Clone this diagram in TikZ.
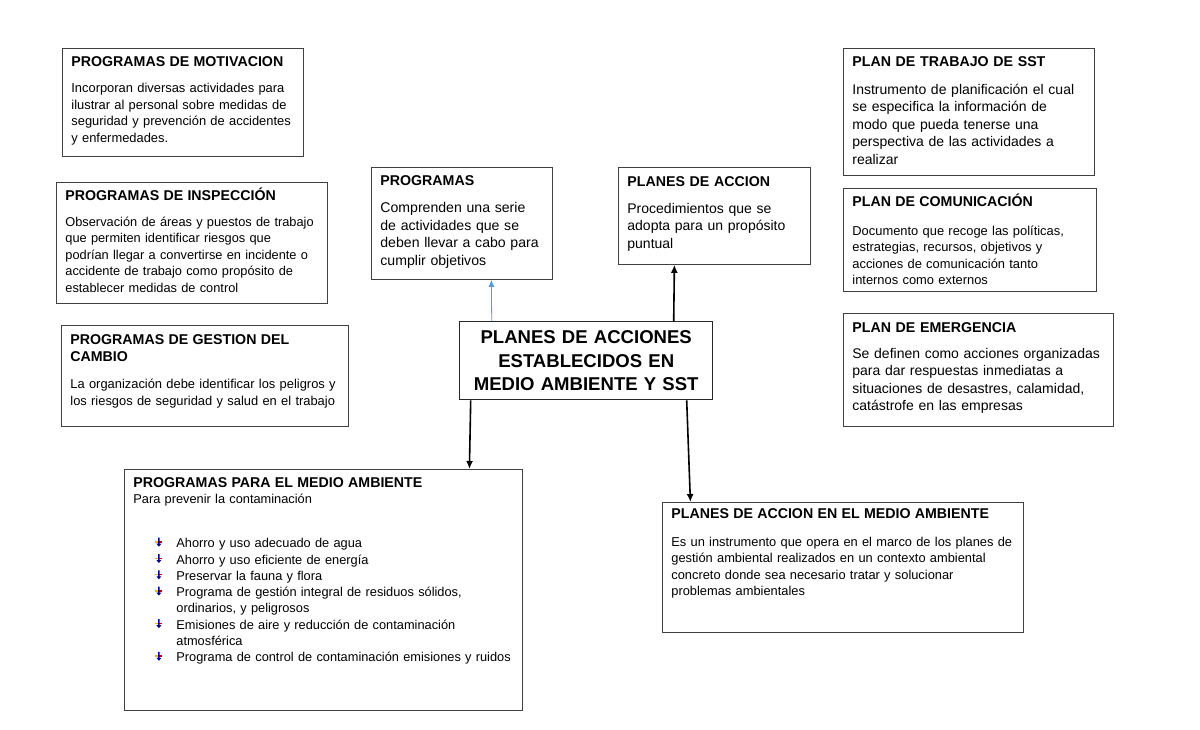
\documentclass[tikz,border=0pt]{standalone}
\usepackage{fontspec}
\setmainfont{Liberation Sans}
\usetikzlibrary{arrows.meta}
\definecolor{linkblue}{HTML}{5B9BD5}
\hyphenpenalty=10000
\exhyphenpenalty=10000
\newcommand{\cardhead}[1]{{\bfseries\fontsize{14.2}{17}\selectfont #1\par}}
\newcommand{\bodysize}[2]{\fontsize{#1}{#2}\selectfont}
\newcommand{\bul}{\tikz[x=1pt,y=1pt,baseline=-1pt]{%
  \fill[orange!60!yellow] (0,4) rectangle (3,5.5);
  \fill[red!75!black] (4,4) rectangle (7,5.5);
  \fill[blue!60!black] (2.8,9) rectangle (4.2,3) (1,3) -- (6,3) -- (3.5,0) -- cycle;}}
\begin{document}
\begin{tikzpicture}[x=1pt, y=-1pt,
  card/.style={draw=black!75, line width=0.8pt, anchor=north west, align=left,
    inner xsep=9pt, inner ysep=0pt, text height=18pt},
  hub/.style={draw=black!85, line width=1.4pt, anchor=north west, align=center,
    inner xsep=9pt, inner ysep=0pt, text height=22pt, text depth=56pt,
    text width=235pt, font=\bfseries\fontsize{18.55}{23.5}\selectfont},
  solid edge/.style={draw, -{Latex[length=8pt,width=7pt]}, line width=1.6pt},
  blue edge/.style={draw=linkblue, -{Latex[length=7pt,width=6pt]}, line width=0.8pt}
]
\fill[white] (0,0) rectangle (1200,729);
\useasboundingbox (0,0) rectangle (1200,729);
% Define the nodes
\node[card, text width=223pt, text depth=90pt, font=\bodysize{12.9}{16.7}] (motiv) at (62,48) {%
  \cardhead{PROGRAMAS DE MOTIVACION}\vspace{9.3pt}
  Incorporan diversas actividades para\\ilustrar al personal sobre medidas de\\
  seguridad y prevención de accidentes\\y enfermedades.};
\node[card, text width=253pt, text depth=103pt, font=\bodysize{12.8}{16.5}] (insp) at (56,182) {%
  \cardhead{PROGRAMAS DE INSPECCIÓN}\vspace{9.5pt}
  Observación de áreas y puestos de trabajo\\que permiten identificar riesgos que\\
  podrían llegar a convertirse en incidente o\\accidente de trabajo como propósito de\\
  establecer medidas de control};
\node[card, text width=269pt, text height=19pt, text depth=82pt, font=\bodysize{12.9}{17}] (gestion) at (61,325) {%
  \cardhead{PROGRAMAS DE GESTION DEL\\CAMBIO}\vspace{10pt}
  La organización debe identificar los peligros y\\los riesgos de seguridad y salud en el trabajo};
\node[card, text width=163pt, text depth=94pt, font=\bodysize{14.1}{17.7}] (prog) at (371,167) {%
  \cardhead{PROGRAMAS}\vspace{9.3pt}
  Comprenden una serie\\de actividades que se\\deben llevar a cabo para\\cumplir objetivos};
\node[card, text width=174pt, text height=19pt, text depth=78pt, font=\bodysize{14}{17.5}] (planes) at (618,167) {%
  \cardhead{PLANES DE ACCION}\vspace{9.5pt}
  Procedimientos que se\\adopta para un propósito\\puntual};
\node[card, text width=233pt, text depth=109pt, font=\bodysize{14}{17.5}] (trabajo) at (843,48) {%
  \cardhead{PLAN DE TRABAJO DE SST}\vspace{10.5pt}
  Instrumento de planificación el cual\\se especifica la información de\\
  modo que pueda tenerse una\\perspectiva de las actividades a\\realizar};
\node[card, text width=235pt, text depth=85pt, font=\bodysize{12.9}{16.5}] (comunic) at (843,188) {%
  \cardhead{PLAN DE COMUNICACIÓN}\vspace{12.5pt}
  Documento que recoge las políticas,\\estrategias, recursos, objetivos y\\
  acciones de comunicación tanto\\internos como externos};
\node[card, text width=252pt, text height=19pt, text depth=94pt, font=\bodysize{14}{17.5}] (emerg) at (843,313) {%
  \cardhead{PLAN DE EMERGENCIA}\vspace{8.5pt}
  Se definen como acciones organizadas\\para dar respuestas inmediatas a\\
  situaciones de desastres, calamidad,\\catástrofe en las empresas};
\node[hub] (hub) at (459,321) {PLANES DE ACCIONES\\ESTABLECIDOS EN\\MEDIO AMBIENTE Y SST};
\node[card, text width=380pt, text depth=223pt, font=\bodysize{12.8}{16.3}] (medio) at (124,469) {%
  \cardhead{PROGRAMAS PARA EL MEDIO AMBIENTE}
  Para prevenir la contaminación\par\vspace{27.7pt}
  \hspace*{22pt}\makebox[21pt][l]{\bul}Ahorro y uso adecuado de agua\\
  \hspace*{22pt}\makebox[21pt][l]{\bul}Ahorro y uso eficiente de energía\\
  \hspace*{22pt}\makebox[21pt][l]{\bul}Preservar la fauna y flora\\
  \hspace*{22pt}\makebox[21pt][l]{\bul}Programa de gestión integral de residuos sólidos,\\
  \hspace*{43pt}ordinarios, y peligrosos\\
  \hspace*{22pt}\makebox[21pt][l]{\bul}Emisiones de aire y reducción de contaminación\\
  \hspace*{43pt}atmosférica\\
  \hspace*{22pt}\makebox[21pt][l]{\bul}Programa de control de contaminación emisiones y ruidos};
\node[card, text width=343pt, text height=16pt, text depth=114pt, font=\bodysize{12.85}{16.3}] (accionma) at (662,502) {%
  \cardhead{PLANES DE ACCION EN EL MEDIO AMBIENTE}\vspace{11.7pt}
  Es un instrumento que opera en el marco de los planes de\\
  gestión ambiental realizados en un contexto ambiental\\
  concreto donde sea necesario tratar y solucionar\\problemas ambientales};
% Define the edges
\path[blue edge] ([xshift=-94.5pt]hub.north) -- ([xshift=29.5pt]prog.south);
\path[solid edge] ([xshift=87.5pt]hub.north) -- ([xshift=-40pt]planes.south);
\path[solid edge] ([xshift=-115.5pt]hub.south) -- ([xshift=146pt]medio.north);
\path[solid edge] ([xshift=100.5pt]hub.south) -- ([xshift=-152.5pt]accionma.north);
\end{tikzpicture}
\end{document}
